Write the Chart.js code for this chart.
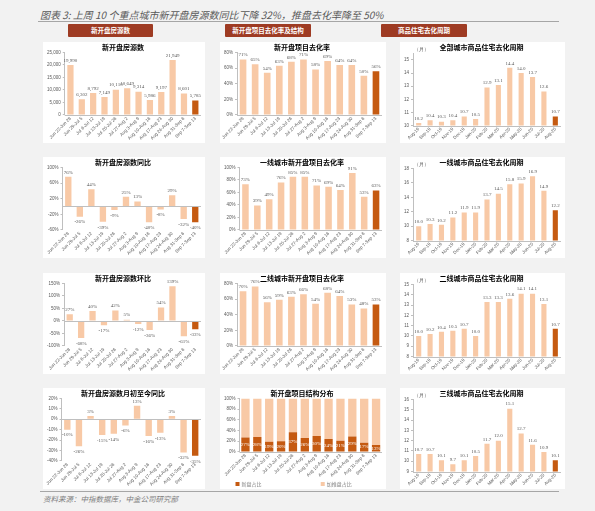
<!DOCTYPE html>
<html>
<head>
<meta charset="utf-8">
<script src="https://cdn.jsdelivr.net/npm/chart.js@4.4.0/dist/chart.umd.min.js"></script>
<style>
body { margin:0; width:595px; height:511px; background:#f2f2f2; position:relative; overflow:hidden; font-family:'Noto Sans CJK SC', sans-serif; }
#title { position:absolute; left:40px; top:7px; font-size:10px; font-style:italic; color:#595959; white-space:nowrap; }
#topLine { position:absolute; left:38px; top:21px; width:521px; height:1px; background:#a6a6a6; }
.head { position:absolute; top:24px; height:13px; line-height:13px; background:#9e3b23; color:#fff; font-size:6.5px; font-weight:bold; text-align:center; border-radius:1px; }
.panel { position:absolute; background:#fff; }
#bottomLine { position:absolute; left:40px; top:491px; width:519px; height:1px; background:#a6a6a6; }
#source { position:absolute; left:43px; top:493px; font-size:7.5px; font-style:italic; color:#7f7f7f; white-space:nowrap; }
</style>
</head>
<body>
<div id="title">图表 3: 上周 10 个重点城市新开盘房源数同比下降 32%，推盘去化率降至 50%</div>
<div id="topLine"></div>
<div class="head" style="left:68px;width:85px;">新开盘房源数</div>
<div class="head" style="left:225px;width:86px;">新开盘项目去化率及结构</div>
<div class="head" style="left:381px;width:86px;">商品住宅去化周期</div>

<div class="panel" style="left:43px;top:42px;width:162px;height:101px;"><canvas id="c1"></canvas></div>
<div class="panel" style="left:220px;top:42px;width:166px;height:101px;"><canvas id="c2"></canvas></div>
<div class="panel" style="left:400px;top:42px;width:165px;height:101px;"><canvas id="c3"></canvas></div>
<div class="panel" style="left:43px;top:157px;width:162px;height:101px;"><canvas id="c4"></canvas></div>
<div class="panel" style="left:220px;top:157px;width:166px;height:101px;"><canvas id="c5"></canvas></div>
<div class="panel" style="left:400px;top:157px;width:165px;height:101px;"><canvas id="c6"></canvas></div>
<div class="panel" style="left:43px;top:273px;width:162px;height:101px;"><canvas id="c7"></canvas></div>
<div class="panel" style="left:220px;top:273px;width:166px;height:101px;"><canvas id="c8"></canvas></div>
<div class="panel" style="left:400px;top:273px;width:165px;height:101px;"><canvas id="c9"></canvas></div>
<div class="panel" style="left:43px;top:388px;width:162px;height:101px;"><canvas id="c10"></canvas></div>
<div class="panel" style="left:220px;top:388px;width:166px;height:101px;"><canvas id="c11"></canvas></div>
<div class="panel" style="left:400px;top:388px;width:165px;height:101px;"><canvas id="c12"></canvas></div>

<div id="bottomLine"></div>
<div id="source">资料来源：中指数据库，中金公司研究部</div>

<script>
var weekLabels = ["Jun 22-Jun 28", "Jun 29-Jul 5", "Jul 6-Jul 12", "Jul 13-Jul 19", "Jul 20-Jul 26", "Jul 27-Aug 2", "Aug 3-Aug 9", "Aug 10-Aug 16", "Aug 17-Aug 23", "Aug 24-Aug 30", "Aug 31-Sep 6", "Sep 7-Sep 13"];
var monthLabels = ["Aug-19", "Sep-19", "Oct-19", "Nov-19", "Dec-19", "Jan-20", "Feb-20", "Mar-20", "Apr-20", "May-20", "Jun-20", "Jul-20", "Aug-20"];

// weekly new launches (units) and their growth rates, %
var newUnits = [19990, 6302, 8792, 7149, 10110, 10649, 9314, 5986, 9197, 21949, 8601, 5785];
var newUnitsYoy = [76, -26, 44, -39, -9, 25, 13, -40, -8, 29, -32, -40];
var newUnitsMom = [27, -68, 40, -17, 42, 5, -12, -36, 54, 139, -61, -33];
var newUnitsYtdYoy = [-10, -26, 3, -15, -14, -6, 13, -16, -13, 3, -32, -35];

// sell-through rate of new projects, %
var sellThrough = [71, 65, 54, 63, 68, 71, 58, 69, 64, 64, 50, 56];
var sellThroughT1 = [73, 39, 49, 76, 85, 85, 71, 69, 64, 91, 53, 63];
var sellThroughT2 = [70, 76, 56, 59, 63, 66, 54, 68, 64, 53, 48, 53];

// project structure, %
var newProjShare = [27, 28, 19, 20, 37, 26, 30, 24, 21, 29, 17, 13];
var addProjShare = [73, 72, 81, 80, 63, 74, 70, 76, 79, 71, 83, 87];

// inventory cycle, months
var cycleAll = [10.2, 10.4, 10.3, 10.4, 10.7, 10.5, 12.9, 13.1, 14.4, 14.0, 13.7, 12.6, 10.7];
var cycleT1 = [10.0, 10.3, 10.2, 11.2, 11.9, 11.9, 13.7, 14.5, 15.8, 15.9, 16.9, 14.9, 12.2];
var cycleT2 = [10.0, 10.2, 10.4, 10.5, 10.7, 10.0, 13.3, 13.3, 13.6, 14.1, 14.1, 13.1, 10.7];
var cycleT3 = [10.7, 10.7, 10.1, 9.7, 10.1, 10.5, 11.7, 12.0, 15.1, 12.7, 11.6, 10.9, 10.1];

var LIGHT = "#f8c9a6";
var DARK = "#c55a11";
var TEXT = "#595959";
var AXIS = "#bfbfbf";

function fmtValue(v, kind) {
    if (kind === 'comma') return v.toLocaleString('en-US');
    if (kind === 'pct') return v + '%';
    if (kind === 'dec1') return v.toFixed(1);
    if (kind === 'floor') return String(Math.floor(v + 1e-9));
    return String(v);
}

function barColors(n) {
    var c = [];
    for (var i = 0; i < n; i++) c.push(i === n - 1 ? DARK : LIGHT);
    return c;
}

// value labels, zero line, the (月) unit and the small legend
var barLabels = {
    id: 'barLabels',
    afterDatasetsDraw: function(chart, args, opts) {
        var ctx = chart.ctx;
        var yScale = chart.scales.y;
        var area = chart.chartArea;
        ctx.save();
        var base = yScale.min > 0 ? yScale.min : 0;
        var y0 = Math.round(yScale.getPixelForValue(base)) + 0.5;
        ctx.strokeStyle = AXIS;
        ctx.lineWidth = 1;
        ctx.beginPath();
        ctx.moveTo(area.left, y0);
        ctx.lineTo(area.right, y0);
        ctx.stroke();

        ctx.font = '5px "Liberation Serif"';
        ctx.textAlign = 'center';
        chart.data.datasets.forEach(function(ds, i) {
            if (opts.only !== undefined && opts.only !== i) return;
            var meta = chart.getDatasetMeta(i);
            meta.data.forEach(function(bar, j) {
                var v = ds.data[j];
                if (Array.isArray(v)) v = v[1] - v[0];
                var txt = fmtValue(v, opts.fmt);
                if (opts.inside) {
                    ctx.fillStyle = '#ffffff';
                    ctx.textBaseline = 'middle';
                    ctx.fillText(txt, bar.x, (bar.y + bar.base) / 2);
                } else if (v < 0) {
                    ctx.fillStyle = TEXT;
                    ctx.textBaseline = 'top';
                    ctx.fillText(txt, bar.x, bar.y + 3);
                } else {
                    ctx.fillStyle = TEXT;
                    ctx.textBaseline = 'bottom';
                    ctx.fillText(txt, bar.x, bar.y - 2);
                }
            });
        });
        if (opts.unit) {
            ctx.fillStyle = TEXT;
            ctx.textAlign = 'left';
            ctx.textBaseline = 'bottom';
            ctx.fillText(opts.unit, area.left + 1, area.top - 1);
        }
        if (opts.legend) {
            var lx = [area.left - 4, area.left + (area.right - area.left) * 0.57];
            var ly = chart.height - 5;
            ctx.font = '5px "Noto Sans CJK SC"';
            ctx.textAlign = 'left';
            ctx.textBaseline = 'middle';
            chart.data.datasets.forEach(function(ds, i) {
                ctx.fillStyle = ds.backgroundColor;
                ctx.fillRect(lx[i], ly - 2, 4, 4);
                ctx.fillStyle = '#7f7f7f';
                ctx.fillText(ds.label, lx[i] + 6, ly);
            });
        }
        ctx.restore();
    }
};

function baseOptions(title, axis, tickFmt, labelOpts, titleGap) {
    return {
        responsive: true,
        maintainAspectRatio: false,
        animation: false,
        layout: { padding: { left: 2, right: 4, top: 0, bottom: 1 } },
        plugins: {
            legend: { display: false },
            tooltip: { enabled: false },
            title: {
                display: true,
                text: title,
                color: '#000000',
                font: { family: 'Noto Sans CJK SC', size: 7, weight: 'bold' },
                padding: { top: 1, bottom: titleGap }
            },
            barLabels: labelOpts
        },
        scales: {
            x: {
                grid: { display: false, drawTicks: false },
                border: { display: false },
                ticks: {
                    autoSkip: false,
                    maxRotation: 45,
                    minRotation: 45,
                    padding: 1,
                    color: TEXT,
                    font: { family: 'Liberation Sans', size: 4.5 }
                }
            },
            y: {
                min: axis.min,
                max: axis.max,
                grid: { drawOnChartArea: false, drawTicks: true, tickLength: 2, color: AXIS },
                border: { display: true, color: AXIS },
                ticks: {
                    stepSize: axis.step,
                    padding: 2,
                    color: TEXT,
                    font: { family: 'Liberation Sans', size: 4.5 },
                    callback: function(v) { return fmtValue(v, tickFmt); }
                }
            }
        }
    };
}

function createBarChart(id, title, labels, values, axis, labelFmt, tickFmt, unit, barPct) {
    var canvas = document.getElementById(id);
    return new Chart(canvas, {
        type: 'bar',
        data: {
            labels: labels,
            datasets: [{
                data: values,
                backgroundColor: barColors(values.length),
                barPercentage: barPct,
                categoryPercentage: 1
            }]
        },
        options: baseOptions(title, axis, tickFmt, { fmt: labelFmt, unit: unit }, unit ? 2 : 1),
        plugins: [barLabels]
    });
}

// 100% structure: floating bars built from the two share arrays
function createStructureChart() {
    var canvas = document.getElementById('c11');
    var lower = [], upper = [];
    var i;
    for (i = 0; i < newProjShare.length; i++) {
        lower.push([0, newProjShare[i]]);
        upper.push([newProjShare[i], newProjShare[i] + addProjShare[i]]);
    }
    var opts = baseOptions('新开盘项目结构分布', { min: 0, max: 100, step: 10 }, 'pct', { fmt: 'pct', only: 0, inside: true, legend: true }, 1);
    opts.scales.x.stacked = true;
    opts.layout.padding.bottom = 10;
    return new Chart(canvas, {
        type: 'bar',
        data: {
            labels: weekLabels,
            datasets: [{
                label: '新盘占比',
                data: lower,
                backgroundColor: DARK,
                barPercentage: 0.7,
                categoryPercentage: 1
            }, {
                label: '加推盘占比',
                data: upper,
                backgroundColor: LIGHT,
                barPercentage: 0.7,
                categoryPercentage: 1
            }]
        },
        options: opts,
        plugins: [barLabels]
    });
}

createBarChart('c1', '新开盘房源数', weekLabels, newUnits, { min: 0, max: 25000, step: 5000 }, 'comma', 'comma', null, 0.55);
createBarChart('c2', '新开盘项目去化率', weekLabels, sellThrough, { min: 0, max: 80, step: 10 }, 'pct', 'pct', null, 0.55);
createBarChart('c3', '全部城市商品住宅去化周期', monthLabels, cycleAll, { min: 10, max: 15.5, step: 0.5 }, 'dec1', 'floor', '（月）', 0.45);
createBarChart('c4', '新开盘房源数同比', weekLabels, newUnitsYoy, { min: -60, max: 100, step: 20 }, 'pct', 'pct', null, 0.55);
createBarChart('c5', '一线城市新开盘项目去化率', weekLabels, sellThroughT1, { min: 0, max: 100, step: 10 }, 'pct', 'pct', null, 0.55);
createBarChart('c6', '一线城市商品住宅去化周期', monthLabels, cycleT1, { min: 8, max: 18, step: 1 }, 'dec1', 'int', '（月）', 0.45);
createBarChart('c7', '新开盘房源数环比', weekLabels, newUnitsMom, { min: -100, max: 150, step: 50 }, 'pct', 'pct', null, 0.55);
createBarChart('c8', '二线城市新开盘项目去化率', weekLabels, sellThroughT2, { min: 0, max: 80, step: 10 }, 'pct', 'pct', null, 0.55);
createBarChart('c9', '二线城市商品住宅去化周期', monthLabels, cycleT2, { min: 8, max: 15, step: 1 }, 'dec1', 'int', '（月）', 0.45);
createBarChart('c10', '新开盘房源数月初至今同比', weekLabels, newUnitsYtdYoy, { min: -40, max: 20, step: 10 }, 'pct', 'pct', null, 0.55);
createStructureChart();
createBarChart('c12', '三线城市商品住宅去化周期', monthLabels, cycleT3, { min: 9, max: 16, step: 1 }, 'dec1', 'int', '（月）', 0.45);
</script>
</body>
</html>
